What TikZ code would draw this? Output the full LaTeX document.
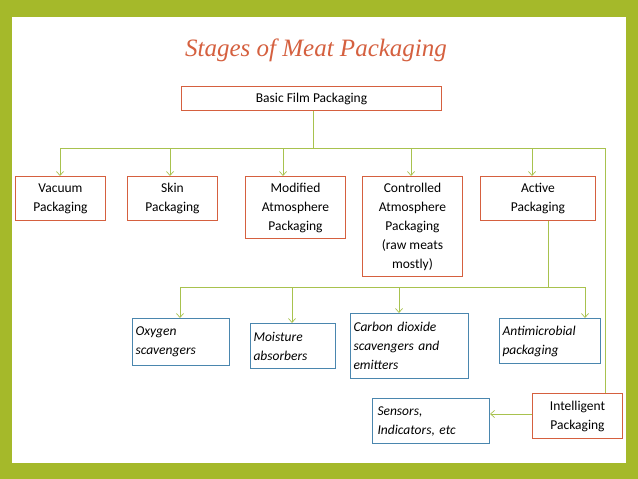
\documentclass[tikz,border=0pt]{standalone}
\usetikzlibrary{arrows.meta}
\usepackage{fontspec}
\setmainfont{Carlito}
\newfontfamily\titlefont{Liberation Serif}
\definecolor{frame}{HTML}{A5B92A}
\definecolor{lnk}{HTML}{A8C24E}
\definecolor{redb}{HTML}{D5603F}
\definecolor{blueb}{HTML}{4A86AE}
\begin{document}
\begin{tikzpicture}[x=1pt,y=-1pt,
  rbox/.style={draw=redb,line width=1pt,inner sep=0pt,align=center,font=\fontsize{13.5}{19}\selectfont},
  bbox/.style={draw=blueb,line width=1pt,inner sep=0pt,align=left,font=\fontsize{13.5}{19}\selectfont\itshape},
  lk/.style={draw=lnk,line width=0.7pt},
  ar/.style={lk,-{Straight Barb[length=4pt,width=7pt]}}]
\useasboundingbox (0,0) rectangle (638,479);
\fill[frame] (0,0) rectangle (638,479);
\fill[white] (12,17) rectangle (626,463);
\node[font=\titlefont\itshape\fontsize{25}{28}\selectfont,text=redb] (title) at (316,50) {Stages of Meat Packaging};
\newcommand\bx[7]{\node[#1,minimum width=#4-#2,minimum height=#5-#3,anchor=north west] (#6) at (#2,#3) {#7};}
\bx{rbox}{181}{86}{441}{110}{basic}{Basic Film Packaging}
\bx{rbox}{15}{176}{105}{220}{vac}{Vacuum\\Packaging}
\bx{rbox}{127}{176}{217}{220}{skin}{Skin\\Packaging}
\bx{rbox}{245}{176}{345}{238}{mod}{Modified\\Atmosphere\\Packaging}
\bx{rbox}{362}{176}{462}{276}{con}{Controlled\\Atmosphere\\Packaging\\(raw meats\\mostly)}
\bx{rbox}{480}{176}{595}{220}{act}{Active\\Packaging}
\bx{rbox}{532}{393}{622}{438}{intel}{Intelligent\\Packaging}
\node[bbox,minimum width=97,minimum height=47,anchor=north west,text width=91] (oxy) at (132,318) {Oxygen\\scavengers};
\node[bbox,minimum width=85,minimum height=45,anchor=north west,text width=79] (moi) at (250,323) {Moisture\\absorbers};
\node[bbox,minimum width=118,minimum height=65,anchor=north west,text width=112] (co2) at (350,313) {Carbon dioxide\\scavengers and\\emitters};
\node[bbox,minimum width=101,minimum height=45,anchor=north west,text width=95] (anti) at (499,318) {Antimicrobial\\packaging};
\node[bbox,minimum width=117,minimum height=45,anchor=north west,text width=107] (sens) at (372,398) {Sensors,\\Indicators, etc};
\coordinate (b0) at (313,148);
\coordinate (bl) at (60,148);
\coordinate (br) at (605,148);
\draw[lk] (basic.south -| b0) -- (b0);
\draw[lk] (bl) -- (br);
\draw[ar] (bl) -- (vac.north -| bl);
\draw[ar] (170,148) -- (skin.north -| 170,0);
\draw[ar] (283,148) -- (mod.north -| 283,0);
\draw[ar] (411,148) -- (con.north -| 411,0);
\draw[ar] (532,148) -- (act.north -| 532,0);
\draw[lk] (br) -- (intel.north -| br);
\coordinate (a0) at (548,287);
\draw[lk] (act.south -| a0) -- (a0);
\draw[lk] (180,287) -- (585,287);
\draw[ar] (180,287) -- (oxy.north -| 180,0);
\draw[ar] (292,287) -- (moi.north -| 292,0);
\draw[ar] (399,287) -- (co2.north -| 399,0);
\draw[ar] (585,287) -- (anti.north -| 585,0);
\draw[ar] (intel.west |- 0,414) -- (sens.east |- 0,414);
\end{tikzpicture}
\end{document}
